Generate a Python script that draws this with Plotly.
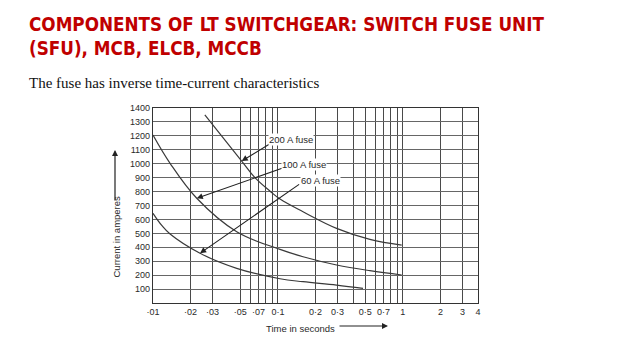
import math
import plotly.graph_objects as go

# ---- data ----
t_200 = [0.026, 0.0513, 0.0655, 0.0862, 0.104, 0.159, 0.295, 0.545, 0.98]
i_200 = [1350, 1019, 900, 804, 746, 655, 536, 457, 416]

t_100 = [0.01, 0.0137, 0.0224, 0.0468, 0.104, 0.159, 0.295, 0.545, 0.98]
i_100 = [1206, 1003, 752, 512, 385, 332, 273, 232, 201]

t_60 = [0.01, 0.0118, 0.0137, 0.0238, 0.0468, 0.104, 0.159, 0.295, 0.48]
i_60 = [644, 555, 495, 357, 249, 174, 153, 129, 105]

x_tickvals = [0.01, 0.02, 0.03, 0.05, 0.07, 0.1, 0.2, 0.3, 0.5, 0.7, 1, 2, 3, 4]
x_ticktext = ["·01", "·02", "·03", "·05", "·07", "0·1", "0·2", "0·3", "0·5", "0·7", "1", "2", "3", "4"]
x_minor = [0.06, 0.08, 0.09, 0.4, 0.6, 0.8, 0.9]
y_tickvals = list(range(100, 1500, 100))

labels = ["200 A fuse", "100 A fuse", "60 A fuse"]
label_pos = [(0.128, 1174), (0.161, 991), (0.221, 876)]
arrow_tail = [(0.0875, 1146), (0.117, 978), (0.152, 859)]
arrow_tip = [(0.0513, 1019), (0.0224, 752), (0.0238, 357)]

LINE = "#3a3a3a"
GRID = "#4a4a4a"
TXT = "#2a2a2a"

fig = go.Figure()
for t, i in [(t_200, i_200), (t_100, i_100), (t_60, i_60)]:
    fig.add_trace(go.Scatter(x=t, y=i, mode="lines",
                             line=dict(color=LINE, width=1.2, shape="spline", smoothing=1.1),
                             showlegend=False, hoverinfo="skip"))

for lab, (lx, ly), (ax_, ay_), (tx, ty) in zip(labels, label_pos, arrow_tail, arrow_tip):
    fig.add_annotation(x=math.log10(tx), y=ty, ax=math.log10(ax_), ay=ay_, xref="x", yref="y",
                       axref="x", ayref="y", text="", showarrow=True, arrowhead=2, arrowsize=1.1,
                       arrowwidth=1.1, arrowcolor="#222", standoff=0)
    fig.add_annotation(x=math.log10(lx), y=ly, xref="x", yref="y", text=lab, showarrow=False,
                       font=dict(family="Liberation Sans, Arial", size=9.5, color=TXT),
                       bgcolor="white", borderpad=0)

# title and subtitle
fig.add_annotation(xref="paper", yref="paper", x=(27 - 153) / 325, y=1 + (108 - 12) / 195,
                   xanchor="left", yanchor="top", align="left", showarrow=False,
                   text="COMPONENTS OF LT SWITCHGEAR: SWITCH FUSE UNIT<br>(SFU), MCB, ELCB, MCCB",
                   font=dict(family="Liberation Sans Narrow, DejaVu Sans Condensed, sans-serif", size=18.7,
                             color="#C00000", weight="bold"))
fig.add_annotation(xref="paper", yref="paper", x=(27 - 153) / 325, y=1 + (108 - 73) / 195,
                   xanchor="left", yanchor="top", align="left", showarrow=False,
                   text="The fuse has inverse time-current characteristics",
                   font=dict(family="Liberation Serif, Times New Roman, serif", size=15, color="#111"))

# axis titles
fig.add_annotation(xref="paper", yref="paper", x=(300 - 153) / 325, y=-(328 - 303) / 195,
                   xanchor="center", yanchor="middle", showarrow=False, text="Time in seconds",
                   font=dict(family="Liberation Sans, Arial", size=9.5, color=TXT))
fig.add_annotation(xref="paper", yref="paper", x=(388 - 153) / 325, y=-(326 - 303) / 195,
                   ax=-50, ay=0, text="", showarrow=True, arrowhead=2, arrowsize=1, arrowwidth=1.2,
                   arrowcolor="#222", standoff=0)
fig.add_annotation(xref="paper", yref="paper", x=-(153 - 115.5) / 325, y=(303 - 237) / 195,
                   xanchor="center", yanchor="middle", showarrow=False, text="Current in amperes",
                   textangle=-90, font=dict(family="Liberation Sans, Arial", size=9.5, color=TXT))
fig.add_annotation(xref="paper", yref="paper", x=-(153 - 115) / 325, y=(303 - 150) / 195,
                   ax=0, ay=52, text="", showarrow=True, arrowhead=2, arrowsize=1, arrowwidth=1.2,
                   arrowcolor="#222", standoff=0)

fig.update_xaxes(type="log", range=[-2, math.log10(4)], tickvals=x_tickvals, ticktext=x_ticktext,
                 showgrid=True, gridcolor=GRID, gridwidth=1.1, showline=True, linecolor="#333", linewidth=1.2,
                 mirror=True, ticks="", zeroline=False,
                 tickfont=dict(family="Liberation Sans, Arial", size=9, color=TXT),
                 minor=dict(tickvals=x_minor, showgrid=True, gridcolor=GRID, gridwidth=1.1, ticks=""))
fig.update_yaxes(range=[0, 1400], tickvals=y_tickvals, showgrid=True, gridcolor="#666", gridwidth=1,
                 showline=True, linecolor="#333", linewidth=1.2, mirror=True, ticks="", zeroline=False,
                 tickfont=dict(family="Liberation Sans, Arial", size=9, color=TXT))

fig.update_layout(width=638, height=359, margin=dict(l=153, r=160, t=108, b=56),
                  plot_bgcolor="white", paper_bgcolor="white", showlegend=False)

fig.write_html("out.html", config={"displayModeBar": False},
               post_script="document.body.style.margin='0px';")
